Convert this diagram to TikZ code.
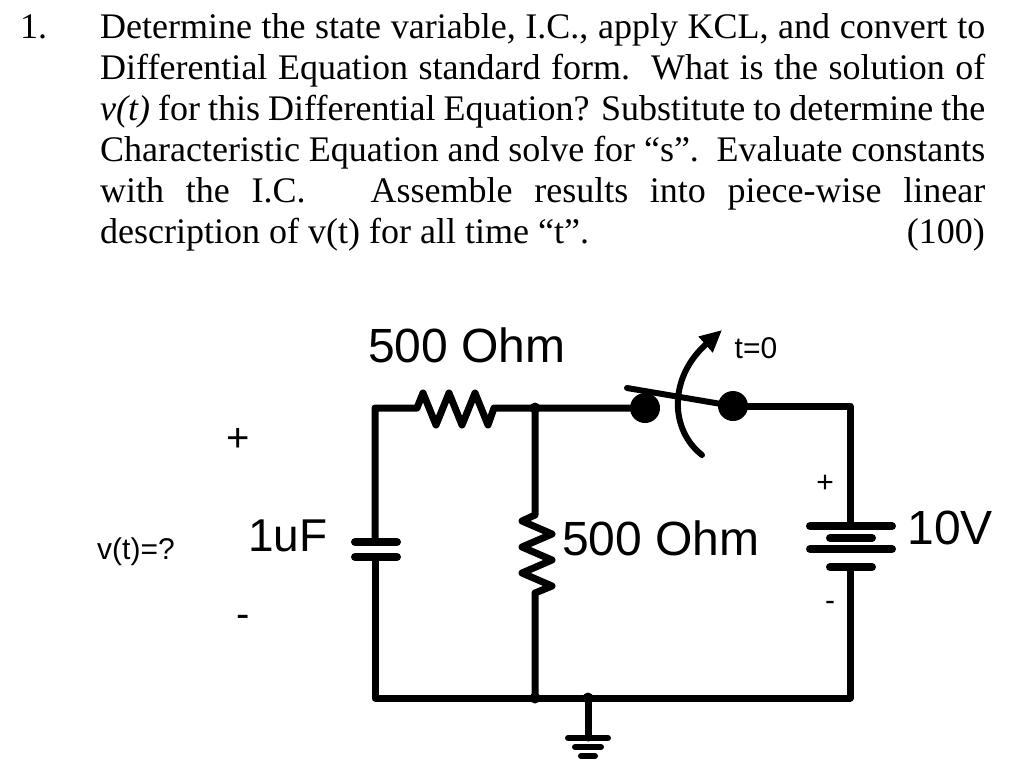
\documentclass[tikz,border=0pt]{standalone}
\usepackage{fontspec}
\setmainfont{Liberation Serif}
\newfontfamily\arial{Liberation Sans}
\usetikzlibrary{arrows.meta}
\begin{document}
\begin{tikzpicture}[x=1pt,y=-1pt,
  wire/.style={line width=7pt,line cap=round,line join=round},
  plate/.style={line width=8pt,line cap=round},
  qline/.style={anchor=base west,inner sep=0pt,font=\fontsize{36}{40}\selectfont},
  lab/.style={inner sep=0pt,font=\arial\fontsize{#1}{#1}\selectfont}]
\useasboundingbox (0,0) rectangle (1024,764);
% question text
\node[qline] (n1) at (20,38) {1.};
\node[qline] (l1) at (100,38) {\makebox[885pt][s]{Determine the state variable, I.C., apply KCL, and convert to}};
\node[qline] (l2) at (100,79) {\makebox[885pt][s]{Differential Equation standard form.\ \ What is the solution of}};
\node[qline] (l3) at (100,120) {\makebox[885pt][s]{\textit{v(t)} for this Differential Equation? Substitute to determine the}};
\node[qline] (l4) at (100,161) {\makebox[885pt][s]{Characteristic Equation and solve for “s”.\ \ Evaluate constants}};
\node[qline] (l5) at (100,202) {\makebox[885pt][s]{with the I.C.\ \ \ Assemble results into piece-wise linear}};
\node[qline] (l6) at (100,243) {description of v(t) for all time “t”.};
\node[qline,anchor=base east] (l7) at (985,243) {(100)};
% coordinates
\coordinate (tl) at (375,408);
\coordinate (bl) at (375,698);
\coordinate (jt) at (535,408);
\coordinate (jb) at (535,698);
\coordinate (g) at (588,698);
\coordinate (tr) at (850,406);
\coordinate (br) at (850,698);
\coordinate (sa) at (645,408);
\coordinate (sb) at (733,406);
% wires
\draw[wire] (375,542) -- (tl) -- (417,408) -- (423,393) -- (436,425) -- (449,393) -- (462,425) -- (475,393) -- (488,425) -- (494,408) -- (jt) -- (sa);
\draw[wire] (sb) -- (tr) -- (850,526);
\draw[wire] (850,567) -- (br) -- (bl) -- (375,557);
\draw[wire] (jt) -- (535,515) -- (522,521) -- (552,534) -- (522,547) -- (552,560) -- (522,573) -- (552,586) -- (535,593) -- (jb);
\draw[wire] (g) -- (588,738);
% ground
\draw[plate,line width=6pt] (568,738) -- (608,738);
\draw[plate,line width=6pt] (575,747) -- (601,747);
\draw[plate,line width=6pt] (581,756) -- (595,756);
% capacitor
\draw[plate] (355,542) -- (397,542);
\draw[plate] (355,557) -- (397,557);
% battery
\draw[plate] (810,526) -- (892,526);
\draw[plate] (830,538) -- (872,538);
\draw[plate] (810,549) -- (892,549);
\draw[plate] (830,567) -- (872,567);
% switch
\fill (sa) circle (15);
\fill (sb) circle (15);
\draw[wire,line width=6pt] (627,388) -- (sb);
\draw[line width=6pt,line cap=round,-{Triangle[length=22pt,width=20pt]}] (702,455) .. controls (670,430) and (668,378) .. (722,330);
% junction dots
\fill (jt) circle (5.5);
\fill (jb) circle (5.5);
\fill (g) circle (5.5);
% labels
\node[lab=48] (r1) at (467,345) {500 Ohm};
\node[lab=48,anchor=west] (r2) at (562,538) {500 Ohm};
\node[lab=30] (sw) at (756,348) {t=0};
\node[lab=46] (c) at (288,536) {1uF};
\node[lab=48] (bv) at (950,528) {10V};
\node[lab=30] (v) at (136,552) {v(t)=?};
\node[lab=40] (cp) at (238,440) {+};
\node[lab=40] (cm) at (243,621) {-};
\node[lab=30] (bp) at (825,484) {+};
\node[lab=30] (bm) at (830,606) {-};
\end{tikzpicture}
\end{document}
